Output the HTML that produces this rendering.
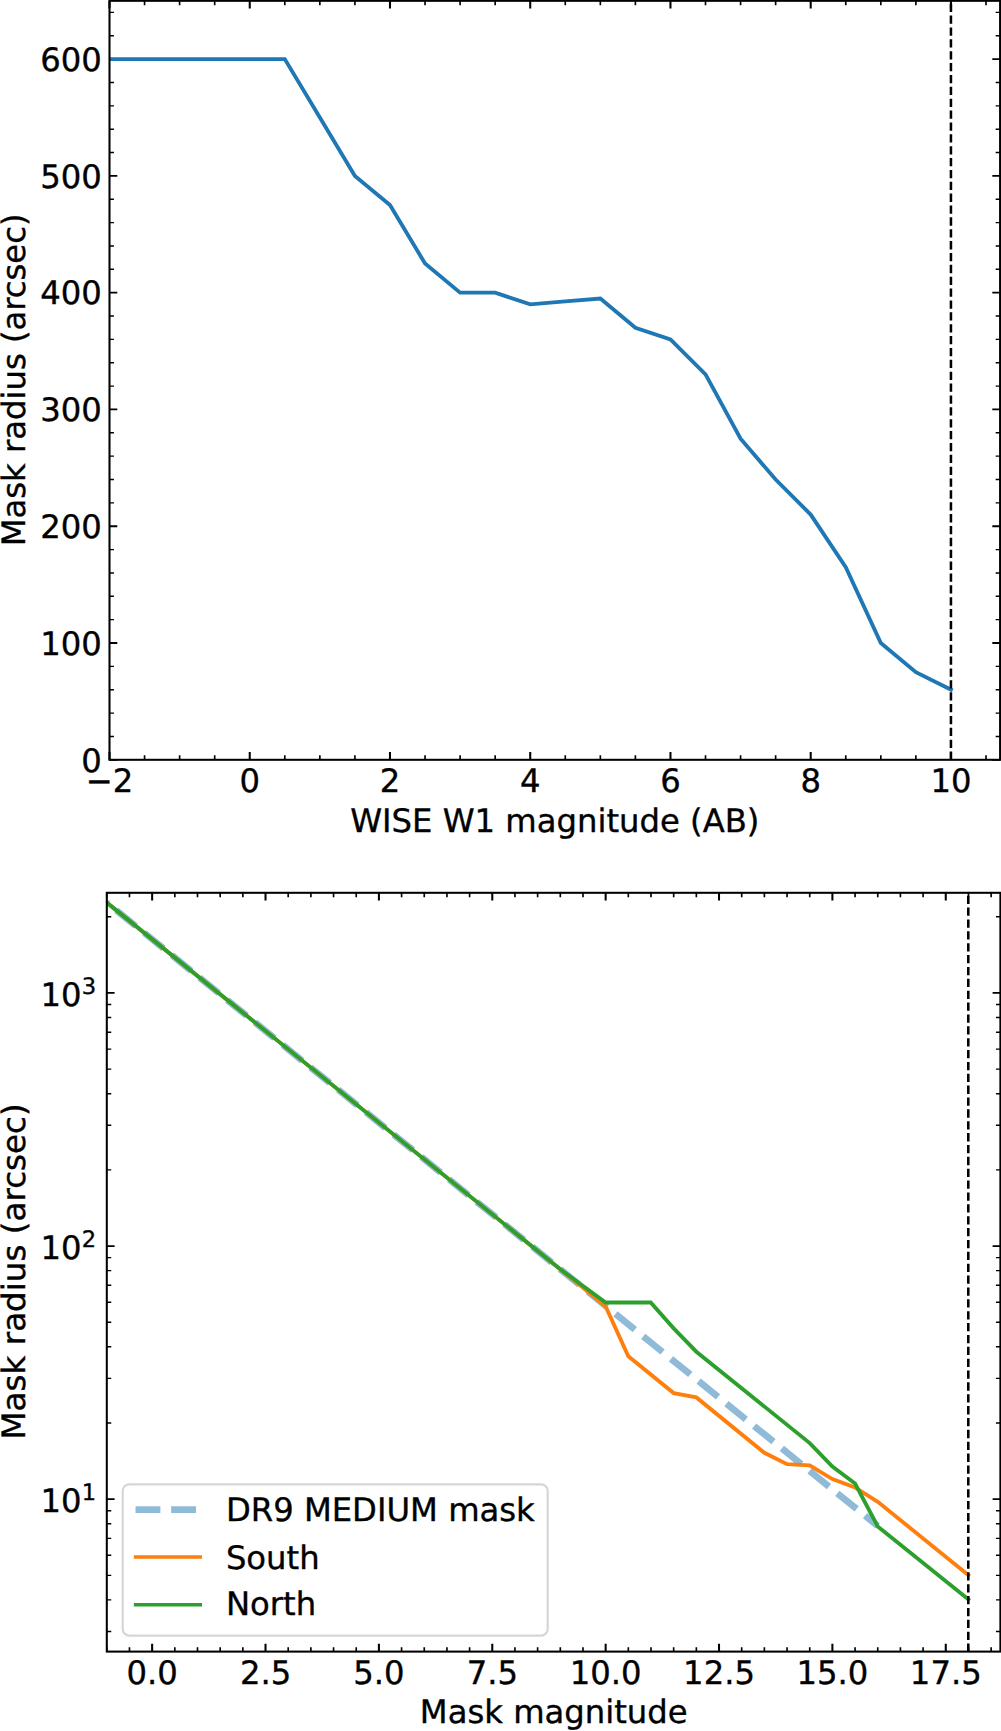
<!DOCTYPE html>
<html lang="en"><head><meta charset="utf-8"><title>Mask radius</title>
<style>html,body{margin:0;padding:0;background:#fff}svg{display:block}text{font-family:"DejaVu Sans", "Liberation Sans", sans-serif;font-size:32.26px;fill:#000;stroke:#000;stroke-width:0.35px;text-rendering:geometricPrecision}</style></head><body>
<svg width="1001" height="1731" viewBox="0 0 1001 1731">
<rect x="0" y="0" width="1001" height="1731" fill="#fff"/>
<g id="plot1">
<clipPath id="c1"><rect x="109.5" y="0.8" width="890.6" height="759"/></clipPath>
<path d="M144.56 759.8v-4.45M144.56 0.8v4.45M179.62 759.8v-4.45M179.62 0.8v4.45M214.68 759.8v-4.45M214.68 0.8v4.45M284.8 759.8v-4.45M284.8 0.8v4.45M319.86 759.8v-4.45M319.86 0.8v4.45M354.92 759.8v-4.45M354.92 0.8v4.45M425.04 759.8v-4.45M425.04 0.8v4.45M460.1 759.8v-4.45M460.1 0.8v4.45M495.16 759.8v-4.45M495.16 0.8v4.45M565.28 759.8v-4.45M565.28 0.8v4.45M600.34 759.8v-4.45M600.34 0.8v4.45M635.4 759.8v-4.45M635.4 0.8v4.45M705.52 759.8v-4.45M705.52 0.8v4.45M740.58 759.8v-4.45M740.58 0.8v4.45M775.64 759.8v-4.45M775.64 0.8v4.45M845.76 759.8v-4.45M845.76 0.8v4.45M880.82 759.8v-4.45M880.82 0.8v4.45M915.88 759.8v-4.45M915.88 0.8v4.45M986 759.8v-4.45M986 0.8v4.45" stroke="#000" stroke-width="1.65" fill="none"/>
<path d="M109.5 759.8v-7.8M109.5 0.8v7.8M249.74 759.8v-7.8M249.74 0.8v7.8M389.98 759.8v-7.8M389.98 0.8v7.8M530.22 759.8v-7.8M530.22 0.8v7.8M670.46 759.8v-7.8M670.46 0.8v7.8M810.7 759.8v-7.8M810.7 0.8v7.8M950.94 759.8v-7.8M950.94 0.8v7.8" stroke="#000" stroke-width="2.05" fill="none"/>
<path d="M109.5 736.44h4.45M1000.1 736.44h-4.45M109.5 713.09h4.45M1000.1 713.09h-4.45M109.5 689.73h4.45M1000.1 689.73h-4.45M109.5 666.38h4.45M1000.1 666.38h-4.45M109.5 619.66h4.45M1000.1 619.66h-4.45M109.5 596.31h4.45M1000.1 596.31h-4.45M109.5 572.95h4.45M1000.1 572.95h-4.45M109.5 549.6h4.45M1000.1 549.6h-4.45M109.5 502.88h4.45M1000.1 502.88h-4.45M109.5 479.53h4.45M1000.1 479.53h-4.45M109.5 456.17h4.45M1000.1 456.17h-4.45M109.5 432.82h4.45M1000.1 432.82h-4.45M109.5 386.1h4.45M1000.1 386.1h-4.45M109.5 362.75h4.45M1000.1 362.75h-4.45M109.5 339.39h4.45M1000.1 339.39h-4.45M109.5 316.04h4.45M1000.1 316.04h-4.45M109.5 269.32h4.45M1000.1 269.32h-4.45M109.5 245.97h4.45M1000.1 245.97h-4.45M109.5 222.61h4.45M1000.1 222.61h-4.45M109.5 199.26h4.45M1000.1 199.26h-4.45M109.5 152.54h4.45M1000.1 152.54h-4.45M109.5 129.19h4.45M1000.1 129.19h-4.45M109.5 105.83h4.45M1000.1 105.83h-4.45M109.5 82.48h4.45M1000.1 82.48h-4.45M109.5 35.76h4.45M1000.1 35.76h-4.45M109.5 12.41h4.45M1000.1 12.41h-4.45" stroke="#000" stroke-width="1.4" fill="none"/>
<path d="M109.5 759.8h7.8M1000.1 759.8h-7.8M109.5 643.02h7.8M1000.1 643.02h-7.8M109.5 526.24h7.8M1000.1 526.24h-7.8M109.5 409.46h7.8M1000.1 409.46h-7.8M109.5 292.68h7.8M1000.1 292.68h-7.8M109.5 175.9h7.8M1000.1 175.9h-7.8M109.5 59.12h7.8M1000.1 59.12h-7.8" stroke="#000" stroke-width="1.8" fill="none"/>
<polyline clip-path="url(#c1)" points="109.5,59.12 144.56,59.12 179.62,59.12 214.68,59.12 249.74,59.12 284.8,59.12 319.86,117.51 354.92,175.9 389.98,205.1 425.04,263.48 460.1,292.68 495.16,292.68 530.22,304.36 565.28,301.44 600.34,298.52 635.4,327.71 670.46,339.39 705.52,374.43 740.58,438.65 775.64,479.53 810.7,514.56 845.76,567.11 880.82,643.02 915.88,672.21 950.94,689.73" fill="none" stroke="#1f77b4" stroke-width="3.85" stroke-linejoin="miter" stroke-linecap="square"/>
<path clip-path="url(#c1)" d="M950.94 759.8V0.8" stroke="#000" stroke-width="2.55" stroke-dasharray="8.29 3.58" fill="none"/>
<rect x="109.5" y="0.8" width="890.6" height="759" fill="none" stroke="#000" stroke-width="2.05"/>
<text transform="translate(109.5 792) scale(1 1)" text-anchor="middle">−2</text>
<text transform="translate(249.74 792) scale(1 1)" text-anchor="middle">0</text>
<text transform="translate(389.98 792) scale(1 1)" text-anchor="middle">2</text>
<text transform="translate(530.22 792) scale(1 1)" text-anchor="middle">4</text>
<text transform="translate(670.46 792) scale(1 1)" text-anchor="middle">6</text>
<text transform="translate(810.7 792) scale(1 1)" text-anchor="middle">8</text>
<text transform="translate(950.94 792) scale(1 1)" text-anchor="middle">10</text>
<text transform="translate(101.8 771.5) scale(1 1)" text-anchor="end">0</text>
<text transform="translate(101.8 654.72) scale(1 1)" text-anchor="end">100</text>
<text transform="translate(101.8 537.94) scale(1 1)" text-anchor="end">200</text>
<text transform="translate(101.8 421.16) scale(1 1)" text-anchor="end">300</text>
<text transform="translate(101.8 304.38) scale(1 1)" text-anchor="end">400</text>
<text transform="translate(101.8 187.6) scale(1 1)" text-anchor="end">500</text>
<text transform="translate(101.8 70.82) scale(1 1)" text-anchor="end">600</text>
<text transform="translate(554.8 831.9) scale(1 1)" text-anchor="middle">WISE W1 magnitude (AB)</text>
<text transform="translate(25 379.9) rotate(-90) scale(1 1)" text-anchor="middle">Mask radius (arcsec)</text>
</g>
<g id="plot2">
<clipPath id="c2"><rect x="106.8" y="892.8" width="893.6" height="758.8"/></clipPath>
<path d="M106.8 1651.6v-4.45M106.8 892.8v4.45M129.47 1651.6v-4.45M129.47 892.8v4.45M174.82 1651.6v-4.45M174.82 892.8v4.45M197.5 1651.6v-4.45M197.5 892.8v4.45M220.18 1651.6v-4.45M220.18 892.8v4.45M242.85 1651.6v-4.45M242.85 892.8v4.45M288.2 1651.6v-4.45M288.2 892.8v4.45M310.88 1651.6v-4.45M310.88 892.8v4.45M333.55 1651.6v-4.45M333.55 892.8v4.45M356.23 1651.6v-4.45M356.23 892.8v4.45M401.58 1651.6v-4.45M401.58 892.8v4.45M424.25 1651.6v-4.45M424.25 892.8v4.45M446.93 1651.6v-4.45M446.93 892.8v4.45M469.6 1651.6v-4.45M469.6 892.8v4.45M514.95 1651.6v-4.45M514.95 892.8v4.45M537.62 1651.6v-4.45M537.62 892.8v4.45M560.3 1651.6v-4.45M560.3 892.8v4.45M582.98 1651.6v-4.45M582.98 892.8v4.45M628.32 1651.6v-4.45M628.32 892.8v4.45M651 1651.6v-4.45M651 892.8v4.45M673.67 1651.6v-4.45M673.67 892.8v4.45M696.35 1651.6v-4.45M696.35 892.8v4.45M741.7 1651.6v-4.45M741.7 892.8v4.45M764.38 1651.6v-4.45M764.38 892.8v4.45M787.05 1651.6v-4.45M787.05 892.8v4.45M809.73 1651.6v-4.45M809.73 892.8v4.45M855.07 1651.6v-4.45M855.07 892.8v4.45M877.75 1651.6v-4.45M877.75 892.8v4.45M900.42 1651.6v-4.45M900.42 892.8v4.45M923.1 1651.6v-4.45M923.1 892.8v4.45M968.45 1651.6v-4.45M968.45 892.8v4.45M991.12 1651.6v-4.45M991.12 892.8v4.45" stroke="#000" stroke-width="1.65" fill="none"/>
<path d="M152.15 1651.6v-7.8M152.15 892.8v7.8M265.52 1651.6v-7.8M265.52 892.8v7.8M378.9 1651.6v-7.8M378.9 892.8v7.8M492.28 1651.6v-7.8M492.28 892.8v7.8M605.65 1651.6v-7.8M605.65 892.8v7.8M719.02 1651.6v-7.8M719.02 892.8v7.8M832.4 1651.6v-7.8M832.4 892.8v7.8M945.77 1651.6v-7.8M945.77 892.8v7.8" stroke="#000" stroke-width="2.05" fill="none"/>
<path d="M106.8 1631.51h4.45M1000.4 1631.51h-4.45M106.8 1599.89h4.45M1000.4 1599.89h-4.45M106.8 1575.36h4.45M1000.4 1575.36h-4.45M106.8 1555.32h4.45M1000.4 1555.32h-4.45M106.8 1538.38h4.45M1000.4 1538.38h-4.45M106.8 1523.7h4.45M1000.4 1523.7h-4.45M106.8 1510.75h4.45M1000.4 1510.75h-4.45M106.8 1422.98h4.45M1000.4 1422.98h-4.45M106.8 1378.41h4.45M1000.4 1378.41h-4.45M106.8 1346.79h4.45M1000.4 1346.79h-4.45M106.8 1322.26h4.45M1000.4 1322.26h-4.45M106.8 1302.22h4.45M1000.4 1302.22h-4.45M106.8 1285.28h4.45M1000.4 1285.28h-4.45M106.8 1270.6h4.45M1000.4 1270.6h-4.45M106.8 1257.65h4.45M1000.4 1257.65h-4.45M106.8 1169.88h4.45M1000.4 1169.88h-4.45M106.8 1125.31h4.45M1000.4 1125.31h-4.45M106.8 1093.69h4.45M1000.4 1093.69h-4.45M106.8 1069.16h4.45M1000.4 1069.16h-4.45M106.8 1049.12h4.45M1000.4 1049.12h-4.45M106.8 1032.18h4.45M1000.4 1032.18h-4.45M106.8 1017.5h4.45M1000.4 1017.5h-4.45M106.8 1004.55h4.45M1000.4 1004.55h-4.45M106.8 916.78h4.45M1000.4 916.78h-4.45" stroke="#000" stroke-width="1.4" fill="none"/>
<path d="M106.8 1499.17h7.8M1000.4 1499.17h-7.8M106.8 1246.07h7.8M1000.4 1246.07h-7.8M106.8 992.97h7.8M1000.4 992.97h-7.8" stroke="#000" stroke-width="1.8" fill="none"/>
<path clip-path="url(#c2)" d="M106.8 902.6L877.75 1525.99" stroke="#1f77b4" stroke-opacity="0.5" stroke-width="6.72" stroke-dasharray="24.9 10.76" stroke-dashoffset="23.36" fill="none"/>
<polyline clip-path="url(#c2)" points="106.8,902.6 582.98,1287.63 605.65,1306.4 628.32,1356.2 673.67,1393.1 696.35,1397.4 764.38,1452.8 787.05,1464.2 809.73,1465.3 832.4,1479.1 855.07,1487.4 877.75,1501.8 968.3,1575" fill="none" stroke="#ff7f0e" stroke-width="3.85" stroke-linejoin="miter" stroke-linecap="square"/>
<polyline clip-path="url(#c2)" points="106.8,902.6 560.3,1269.3 605.65,1302.45 650.7,1302.45 673.67,1328.4 696.35,1351.7 809.73,1443.1 832.4,1466.6 855.07,1483.5 877.75,1526.5 968.3,1599.3" fill="none" stroke="#2ca02c" stroke-width="3.85" stroke-linejoin="miter" stroke-linecap="square"/>
<path clip-path="url(#c2)" d="M968.3 1651.8V892.8" stroke="#000" stroke-width="2.55" stroke-dasharray="8.29 3.58" fill="none"/>
<rect x="106.8" y="892.8" width="893.6" height="758.8" fill="none" stroke="#000" stroke-width="2.05"/>
<text transform="translate(152.15 1684.2) scale(1 1)" text-anchor="middle">0.0</text>
<text transform="translate(265.52 1684.2) scale(1 1)" text-anchor="middle">2.5</text>
<text transform="translate(378.9 1684.2) scale(1 1)" text-anchor="middle">5.0</text>
<text transform="translate(492.28 1684.2) scale(1 1)" text-anchor="middle">7.5</text>
<text transform="translate(605.65 1684.2) scale(1 1)" text-anchor="middle">10.0</text>
<text transform="translate(719.02 1684.2) scale(1 1)" text-anchor="middle">12.5</text>
<text transform="translate(832.4 1684.2) scale(1 1)" text-anchor="middle">15.0</text>
<text transform="translate(945.77 1684.2) scale(1 1)" text-anchor="middle">17.5</text>
<text transform="translate(40.6 1512.17) scale(1 1)">10<tspan dy="-12.4" font-size="22.58px">1</tspan></text>
<text transform="translate(40.6 1259.07) scale(1 1)">10<tspan dy="-12.4" font-size="22.58px">2</tspan></text>
<text transform="translate(40.6 1005.97) scale(1 1)">10<tspan dy="-12.4" font-size="22.58px">3</tspan></text>
<text transform="translate(553.7 1723) scale(1 1)" text-anchor="middle">Mask magnitude</text>
<text transform="translate(24.6 1271.4) rotate(-90) scale(1.01 1)" text-anchor="middle">Mask radius (arcsec)</text>
<rect x="122.7" y="1484.3" width="425" height="151.3" rx="6.67" ry="6.67" fill="#fff" fill-opacity="0.8" stroke="#ccc" stroke-opacity="0.8" stroke-width="2.22"/>
<path d="M135.5 1509.7H200.3" stroke="#1f77b4" stroke-opacity="0.5" stroke-width="6.72" stroke-dasharray="24.88 10.75" fill="none"/>
<path d="M133.85 1557H202" stroke="#ff7f0e" stroke-width="3.36" fill="none"/>
<path d="M133.85 1604.7H202" stroke="#2ca02c" stroke-width="3.36" fill="none"/>
<text transform="translate(225.9 1521.2) scale(1 1)">DR9 MEDIUM mask</text>
<text transform="translate(225.9 1568.7) scale(1 1)">South</text>
<text transform="translate(225.9 1615.4) scale(1 1)">North</text>
</g>
</svg></body></html>
